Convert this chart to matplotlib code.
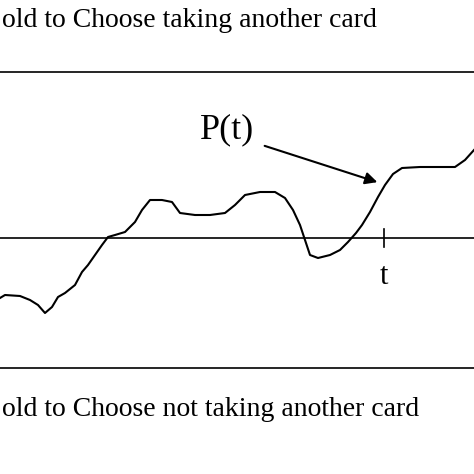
import matplotlib
matplotlib.use("Agg")
import matplotlib.pyplot as plt

# curve of P(t) (pixel-like coordinates, y downward)
t_vals = [0,5,20,30,38,45,52,58,65,75,82,88,95,102,108,115,125,135,142,150,162,172,180,195,210,225,235,245,260,275,285,293,300,305,310,318,330,340,348,356,362,370,378,385,393,402,420,440,455,465,474]
p_vals = [298,295,296,300,305,313,307,297,293,285,272,265,255,245,237,235,232,222,210,200,200,202,213,215,215,213,205,195,192,192,198,210,225,240,255,258,255,250,242,233,225,212,197,185,174,168,167,167,167,160,150]
upper_y = 72
middle_y = 238
lower_y = 368
tick_x = 384
top_label = "old to Choose taking another card"
bottom_label = "old to Choose not taking another card"

plt.rcParams['font.family'] = ['Liberation Serif', 'DejaVu Serif']
fig = plt.figure(figsize=(4.74, 4.74), dpi=100)
ax = fig.add_axes([0, 0, 1, 1])
ax.set_xlim(0, 474)
ax.set_ylim(474, 0)
ax.axis('off')

for yy in (upper_y, middle_y, lower_y):
    ax.plot([0, 474], [yy, yy], color='black', lw=1.2)
ax.plot(t_vals, p_vals, color='black', lw=1.5)
ax.plot([tick_x, tick_x], [229, 247], color='black', lw=1.2)
ax.text(tick_x, 277, "t", fontsize=22, ha='center', va='center')
ax.text(2, 20, top_label, fontsize=20, ha='left', va='center')
ax.text(2, 410, bottom_label, fontsize=20, ha='left', va='center')
ax.text(227, 130, "P(t)", fontsize=26, ha='center', va='center')
ax.annotate("", xy=(380, 183), xytext=(262, 145),
            arrowprops=dict(arrowstyle='-|>', color='black', lw=1.5, mutation_scale=18))
fig.savefig("out.png", dpi=100, facecolor='white')
